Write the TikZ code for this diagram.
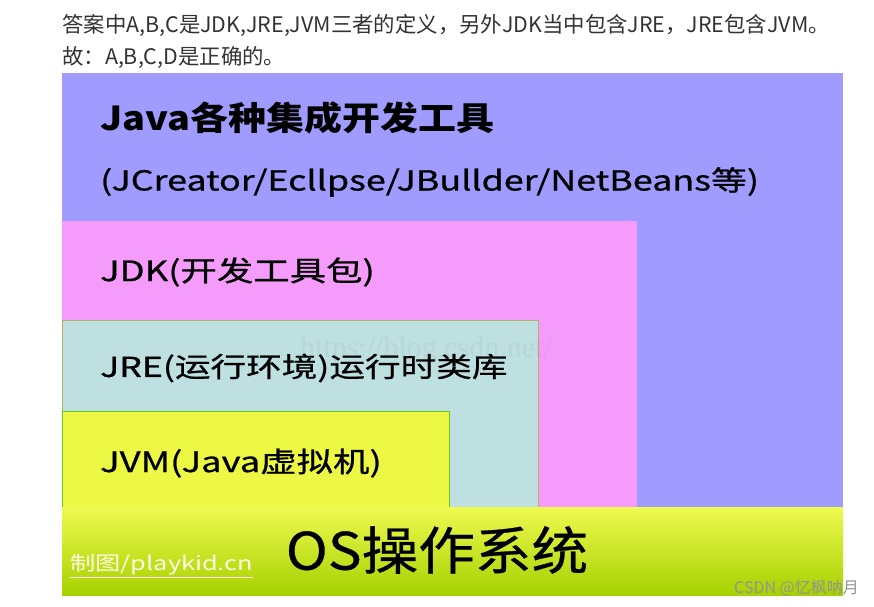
\documentclass[tikz,border=0pt]{standalone}
\usepackage{fontspec}
\setmainfont{Noto Sans CJK SC}
\newfontfamily\widefont[FakeStretch=1.3,FakeBold=0.8]{Noto Sans CJK SC}
\newfontfamily\plainwidefont[FakeStretch=1.3]{Noto Sans CJK SC}
\newfontfamily\boldwidefont[FakeStretch=1.15]{Noto Sans CJK SC}
\newfontfamily\osfont[FakeStretch=1.1,FakeBold=0.6]{Noto Sans CJK SC}
\newfontfamily\markfont{Liberation Serif}
\usetikzlibrary{positioning}
\definecolor{idepurple}{HTML}{9F9BFF}
\definecolor{jdkpink}{HTML}{F59BFB}
\definecolor{jrecyan}{HTML}{BEE0E1}
\definecolor{jvmyellow}{HTML}{EDF845}
\definecolor{ostop}{HTML}{EFFA50}
\definecolor{osbottom}{HTML}{A6D100}
\definecolor{textgray}{HTML}{333333}

\begin{document}
\begin{tikzpicture}[x=1pt,y=-1pt,
    layer/.style={line width=1pt},
    heading/.style={anchor=west,
      inner sep=0pt,
      text=black,
      font=\widefont\fontsize{28}{32}\selectfont},
    remark/.style={anchor=west,
      inner sep=0pt,
      text=textgray,
      font=\fontsize{21.4}{24}\selectfont}]
  \useasboundingbox[fill=white] (0,0) rectangle (874,606);

  % REMARK ABOVE THE PICTURE

  \node[remark] (answer) at (62,25) {%
    答案中A,B,C是JDK,JRE,JVM三者的定义，另外JDK当中包含JRE，JRE包含JVM。};
  \node[remark, below=32pt of answer.west, anchor=west] (verdict) {%
    故：A,B,C,D是正确的。};

  % LAYERS

  \fill[idepurple] (62,73) rectangle (843,508);
  \fill[jdkpink] (62,221) rectangle (637,508);
  \filldraw[layer, fill=jrecyan, draw=olive!45!jrecyan] (62,320) rectangle (538,508);
  \filldraw[layer, fill=jvmyellow, draw=green!45!jvmyellow!80!black] (62,411) rectangle (449,507);
  \shade[top color=ostop, bottom color=osbottom] (62,507) rectangle (843,595);

  % TITLES

  \node[heading,
    font=\boldwidefont\bfseries\fontsize{33}{38}\selectfont] (idetitle) at (100,118) {%
    Java各种集成开发工具};

  \node[heading,
    font=\widefont\fontsize{27.6}{32}\selectfont,
    below=64pt of idetitle.west,
    anchor=west] (idetools) {%
    (JCreator/Ecllpse/JBullder/NetBeans等)};

  \node[heading, below=90pt of idetools.west, anchor=west] (jdktitle) {%
    JDK(开发工具包)};

  \node[heading, font=\widefont\fontsize{27.4}{32}\selectfont,
    below=96pt of jdktitle.west, anchor=west] (jretitle) {%
    JRE(运行环境)运行时类库};

  \node[heading, below=95pt of jretitle.west, anchor=west] (jvmtitle) {%
    JVM(Java虚拟机)};

  \node[font=\osfont\fontsize{51.5}{56}\selectfont, inner sep=0pt] (ostitle) at (437,550) {%
    OS操作系统};

  % MARKS

  \node[anchor=west, inner sep=0pt, text=white!85!ostop,
    font=\plainwidefont\fontsize{19.5}{22}\selectfont] (credit) at (70,566) {%
    \underline{制图/playkid.cn}};

  \node[anchor=west, inner sep=0pt, text=gray, opacity=0.1,
    font=\markfont\fontsize{30}{34}\selectfont] (blogmark) at (300,350) {%
    https://blog.csdn.net/};

  \node[anchor=west, inner sep=0pt, text=gray!85,
    font=\fontsize{16}{18}\selectfont] (csdnmark) at (734,588) {%
    CSDN @忆枫呐月};

\end{tikzpicture}
\end{document}
